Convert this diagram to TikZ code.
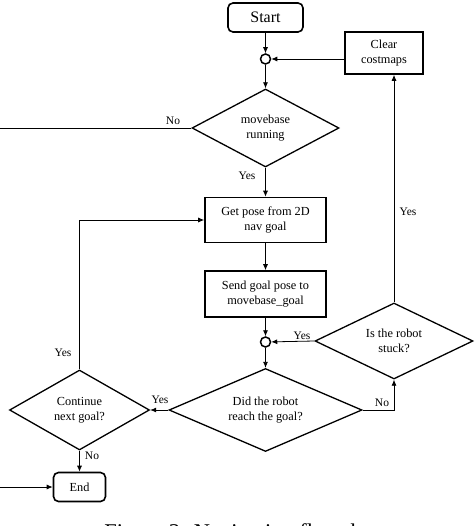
\documentclass[tikz,border=0pt]{standalone}
\usepackage{fontspec}
\setmainfont{Liberation Serif}
\usetikzlibrary{shapes.geometric}
\usetikzlibrary{arrows.meta}
\tikzset{>={Latex[width=5pt,length=6pt]}}

\begin{document}
\begin{tikzpicture}[
    x = 1pt, y = -1pt,
    every node/.style = {font=\fontsize{12.3}{15}\selectfont, align=center},
    box/.style = {draw, line width=1.6pt, inner sep=0pt},
    term/.style = {box, rounded corners=5pt},
    dec/.style = {draw, diamond, line width=1.3pt, shape aspect=2,
        inner sep=0pt},
    junc/.style = {draw, circle, line width=1.5pt, minimum size=10pt,
        inner sep=0pt},
    lbl/.style = {font=\fontsize{11.5}{13}\selectfont, inner sep=0pt},
    flow/.style = {->, line width=0.8pt}
  ]
  \useasboundingbox (0,0) rectangle (474,526);

  % blocks
  \node[term, minimum width=75pt, minimum height=29pt,
    font=\fontsize{16}{18}\selectfont] (start) at (265.5,17.5) {Start};
  \node[junc] (j1) at (265.5,59) {};
  \node[box, minimum width=78pt, minimum height=42pt] (clear) at (384,53)
    {Clear\\costmaps};
  \node[dec, minimum width=147pt, minimum height=78pt] (mb) at (265.5,128)
    {movebase\\running};
  \node[box, minimum width=121pt, minimum height=45pt] (pose) at (265.5,220)
    {Get pose from 2D\\nav goal};
  \node[box, minimum width=121pt, minimum height=46pt] (send) at (265.5,294)
    {Send goal pose to\\movebase\_goal};
  \node[junc] (j2) at (265.5,342) {};
  \node[dec, minimum width=158pt, minimum height=76pt] (stuck) at (394,341)
    {Is the robot\\stuck?};
  \node[dec, minimum width=193pt, minimum height=83pt] (reach) at (265.5,410)
    {Did the robot\\reach the goal?};
  \node[dec, minimum width=140pt, minimum height=80pt] (cont) at (79.5,410)
    {Continue\\next goal?};
  \node[term, minimum width=52pt, minimum height=29pt] (end) at (79.5,487)
    {End};

  % labels
  \node[lbl] (mbno) at (173,121) {No};
  \node[lbl] (mbyes) at (247,176) {Yes};
  \node[lbl] (stuckup) at (408,212) {Yes};
  \node[lbl] (stuckyes) at (302,336) {Yes};
  \node[lbl] (reachyes) at (160,400) {Yes};
  \node[lbl] (reachno) at (382,403) {No};
  \node[lbl] (contyes) at (63,353) {Yes};
  \node[lbl] (contno) at (92,456) {No};

  % connectors
  \draw[flow] (start) -- (j1);
  \draw[flow] (clear.west |- j1) -- (j1);
  \draw[flow] (j1) -- (mb);
  \draw[flow] (mb) -- (pose);
  \draw[flow] (pose) -- (send);
  \draw[flow] (send) -- (j2);
  \draw[flow] (j2) -- (reach);
  \draw[flow] (reach.west) -- (cont.east);
  \draw[flow] (reach.east) -| (stuck.south);
  \draw[flow] (stuck.west) -- (j2);
  \draw[flow] (stuck.north) -- (stuck.north |- clear.south);
  \draw[flow] (cont.north) |- (pose.west);
  \draw[flow] (cont.south) -- (end.north);
  \coordinate (off) at (-8,128);
  \draw[flow] (mb.west) -- (off) |- (end.west);

  \node[font=\fontsize{22.5}{26}\selectfont, anchor=base] (cap) at (245,539)
    {Figure 3: Navigation flowchart};
\end{tikzpicture}
\end{document}
